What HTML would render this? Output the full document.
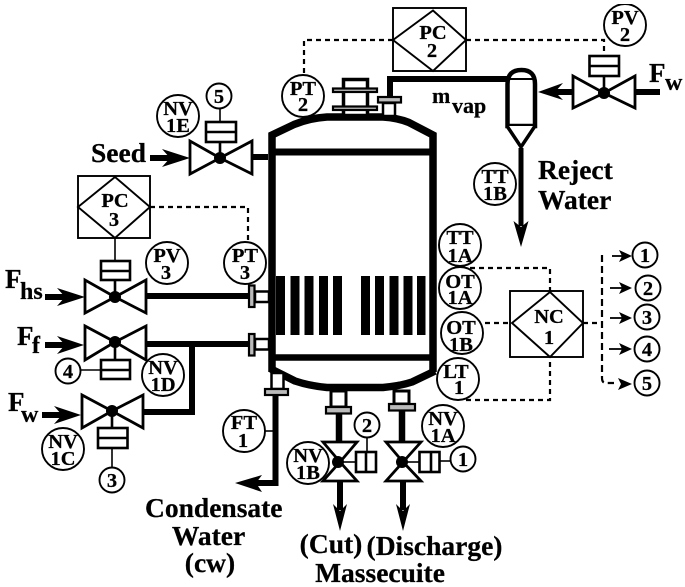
<!DOCTYPE html>
<html><head><meta charset="utf-8"><style>
html,body{margin:0;padding:0;background:#fff;width:685px;height:587px;overflow:hidden}
svg{display:block}
text{font-family:"Liberation Serif",serif;font-weight:bold;fill:#000;stroke:#000;stroke-width:.25;text-anchor:middle}
.l{font-size:27.5px}
.s{font-size:20.5px}
.st{text-anchor:start}
.c{fill:#fff;stroke:#000;stroke-width:1.9}
.t{fill:none;stroke:#000;stroke-width:1.6}
.d{fill:none;stroke:#000;stroke-width:2.2;stroke-dasharray:5 4}
.v{fill:#fff;stroke:#000;stroke-width:2.8}
.a{fill:none;stroke:#000;stroke-width:2.6}
.b{fill:none;stroke:#000;stroke-width:1.9}
.p{fill:none;stroke:#000;stroke-width:6}
.f{fill:#bbb;stroke:#000;stroke-width:2.2}
</style></head><body>
<svg width="685" height="587" viewBox="0 0 685 587" xmlns="http://www.w3.org/2000/svg">
<defs><filter id="bl" x="0" y="0" width="100%" height="100%"><feGaussianBlur stdDeviation="0.35"/></filter></defs>
<rect width="685" height="587" fill="#fff"/>
<g filter="url(#bl)">
<!-- vessel -->
<path d="M272 372 V135 L294 124.500 Q310 118 327 117 H383 Q398 118 409 122.500 L433 135 V372" fill="none" stroke="#000" stroke-width="7.500"/>
<path d="M272 152 H433" stroke="#000" stroke-width="7" fill="none"/>
<path d="M272 357.500 H433" stroke="#000" stroke-width="6.500" fill="none"/>
<path d="M271 369 L295 381 Q310 386 327 387.500 H383 Q400 386 412 382 L435 371" fill="none" stroke="#000" stroke-width="7.500"/>
<!-- bars -->
<g fill="#000">
<rect x="276" y="276" width="9" height="59"/><rect x="290.500" y="276" width="9" height="59"/><rect x="304.500" y="276" width="9" height="59"/><rect x="319" y="276" width="9" height="59"/><rect x="333" y="276" width="9" height="59"/>
<rect x="361" y="276" width="9" height="59"/><rect x="375" y="276" width="9" height="59"/><rect x="389.500" y="276" width="9" height="59"/><rect x="403.500" y="276" width="9" height="59"/><rect x="417" y="276" width="8.500" height="59"/>
</g>
<!-- manhole top -->
<rect x="343.500" y="79.500" width="24" height="36" fill="#fff" stroke="#000" stroke-width="3.500"/>
<rect x="333" y="88.500" width="44" height="3.500" class="f"/>
<rect x="333" y="106.500" width="44" height="3.500" class="f"/>
<!-- vapour nozzle -->
<path d="M390 97 V79 H507" class="p"/>
<rect x="383" y="103" width="12" height="13" fill="#fff" stroke="#000" stroke-width="2.500"/>
<rect x="378" y="97" width="23" height="5.500" class="f"/>
<!-- separator -->
<path d="M507.500 126 V84 Q507.500 70 521.500 70 Q535 70 535 84 V126 Z" fill="#fff" stroke="#000" stroke-width="4.500"/>
<path d="M507 79 H536" fill="none" stroke="#000" stroke-width="2"/>
<path d="M507 126 L521 147 L535 126" fill="#fff" stroke="#000" stroke-width="3.500"/>
<path d="M521 148 V226" fill="none" stroke="#000" stroke-width="5"/>
<polygon points="521,247 513.500,221 521,227 528.500,221"/>
<!-- PV2 valve and arrow -->
<path d="M635 92 H660" class="p"/>
<path d="M573 92 H550" class="p"/>
<polygon points="538,92 563,83 555,92 563,100"/>
<polygon class="v" points="573,76 573,108 604,93"/>
<polygon class="v" points="635,76 635,108 604,93"/>
<path d="M604 76 V93" class="a"/>
<rect x="589.500" y="56" width="29.500" height="20" class="a" fill="#fff"/>
<path d="M589.500 66 H619" class="a"/>
<circle cx="604" cy="93" r="6"/>
<!-- PC2 -->
<path d="M393 40 H304 V74" class="d"/>
<path d="M466 40 H604 V55" class="d"/>
<rect x="393" y="8" width="73" height="63" class="b"/>
<polygon points="393,40 433,10.500 466,40 433,71" class="b"/>
<text x="433" y="39" class="s">PC</text><text x="432" y="57" class="s">2</text>
<circle class="c" cx="303" cy="96" r="21"/><text x="303" y="95" class="s">PT</text><text x="303" y="111" class="s">2</text>
<circle class="c" cx="625" cy="25" r="21"/><text x="625" y="24" class="s">PV</text><text x="625" y="41" class="s">2</text>
<text x="649" y="82" class="st" font-size="27">F</text><text x="665" y="90" class="st" font-size="24">w</text>
<text x="432" y="103" class="st" font-size="22">m</text><text x="452" y="113" class="st" font-size="22">vap</text>
<circle class="c" cx="495" cy="184" r="21"/><text x="495" y="183" class="s">TT</text><text x="495" y="200" class="s">1B</text>
<text x="538" y="179" class="l st">Reject</text><text x="538" y="209" class="l st">Water</text>
<!-- Seed -->
<text x="91" y="162" class="l st">Seed</text>
<rect x="150" y="155" width="22" height="6"/>
<polygon points="190,158 162,149 170,158 162,167"/>
<path d="M252 157 H268" class="p"/>
<polygon class="v" points="190,141 190,174 220,158"/>
<polygon class="v" points="252,141 252,174 220,158"/>
<path d="M220 141 V158" class="a"/>
<rect x="206" y="122" width="30" height="20" class="a" fill="#fff"/>
<path d="M206 132 H236" class="a"/>
<circle cx="220" cy="158" r="6"/>
<path d="M220 108 V122" class="t"/>
<circle class="c" cx="219" cy="96" r="12.500"/><text x="219" y="103" class="s">5</text>
<circle class="c" cx="178" cy="116" r="21"/><text x="178" y="115" class="s">NV</text><text x="178" y="132" class="s">1E</text>
<!-- PC3 -->
<path d="M150 207 H248 V241" class="d"/>
<rect x="78" y="176" width="72" height="62" class="b"/>
<polygon points="78,207 115,177 150,207 115,238" class="b"/>
<text x="115" y="207" class="s">PC</text><text x="114" y="226" class="s">3</text>
<path d="M115 238 V261" class="t"/>
<!-- Fhs line -->
<path d="M146 296 H249" class="p"/>
<polygon class="v" points="85,280 85,313 115,297"/>
<polygon class="v" points="146,280 146,313 115,297"/>
<path d="M115 280 V297" class="a"/>
<rect x="101" y="261" width="29" height="19" class="a" fill="#fff"/>
<path d="M101 271 H130" class="a"/>
<circle cx="115" cy="297" r="6"/>
<rect x="45" y="294" width="22" height="6"/>
<polygon points="85,297 57,288 65,297 57,306"/>
<rect x="255" y="291.500" width="14" height="10.500" fill="#fff" stroke="#000" stroke-width="2.500"/>
<rect x="249" y="285.500" width="5.500" height="21.500" class="f"/>
<circle class="c" cx="245" cy="263" r="21"/><text x="245" y="262" class="s">PT</text><text x="245" y="279" class="s">3</text>
<circle class="c" cx="167" cy="263" r="21"/><text x="167" y="262" class="s">PV</text><text x="166" y="279" class="s">3</text>
<text x="5" y="288" class="st" font-size="27">F</text><text x="20" y="299" class="st" font-size="24">hs</text>
<!-- Ff line -->
<path d="M146 344 H249" class="p"/>
<path d="M192 344 V412 H144" class="p"/>
<polygon class="v" points="85,326 85,360 115,342"/>
<polygon class="v" points="146,326 146,360 115,342"/>
<path d="M115 342 V360" class="a"/>
<rect x="101" y="360" width="29" height="19" class="a" fill="#fff"/>
<path d="M101 370 H130" class="a"/>
<circle cx="115" cy="342" r="6"/>
<rect x="45" y="342" width="22" height="6"/>
<polygon points="84,345 57,336 65,345 57,354"/>
<path d="M80 370 H101" class="t"/>
<circle class="c" cx="68" cy="371" r="12.500"/><text x="68" y="378" class="s">4</text>
<rect x="255" y="339" width="14" height="10.500" fill="#fff" stroke="#000" stroke-width="2.500"/>
<rect x="249" y="334" width="5.500" height="21.500" class="f"/>
<circle class="c" cx="163" cy="375" r="21"/><text x="163" y="374" class="s">NV</text><text x="163" y="391" class="s">1D</text>
<text x="17" y="345" class="st" font-size="27">F</text><text x="32" y="353" class="st" font-size="24">f</text>
<!-- Fw line -->
<polygon class="v" points="82,395 82,428 112,411"/>
<polygon class="v" points="143,395 143,428 112,411"/>
<path d="M112 411 V428" class="a"/>
<rect x="98" y="428" width="29.500" height="20" class="a" fill="#fff"/>
<path d="M98 438 H127.500" class="a"/>
<circle cx="112" cy="411" r="6"/>
<rect x="42" y="412" width="22" height="6"/>
<polygon points="81,415 54,406 62,415 54,424"/>
<path d="M112 448 V468" class="t"/>
<circle class="c" cx="112" cy="480" r="12.500"/><text x="112" y="487" class="s">3</text>
<circle class="c" cx="63" cy="449" r="21"/><text x="63" y="448" class="s">NV</text><text x="63" y="465" class="s">1C</text>
<text x="8" y="411" class="st" font-size="27">F</text><text x="21" y="422" class="st" font-size="24">w</text>
<!-- FT1 and condensate -->
<rect x="271.500" y="373" width="12" height="16" fill="#fff" stroke="#000" stroke-width="2.500"/>
<rect x="265" y="389" width="23" height="6" class="f"/>
<path d="M275.500 396 V483 H255" class="p"/>
<polygon points="235,483 262,475 256,483 262,492"/>
<path d="M265 431 H273" class="t"/>
<circle class="c" cx="244" cy="431" r="21"/><text x="244" y="429" class="s">FT</text><text x="243" y="447" class="s">1</text>
<text x="145" y="517" class="l st">Condensate</text>
<text x="208.500" y="545" class="l">Water</text>
<text x="210" y="572" class="l">(cw)</text>
<!-- bottom valve 1B -->
<rect x="331" y="391" width="15" height="16" fill="#fff" stroke="#000" stroke-width="3"/>
<rect x="326" y="407" width="25" height="6.500" class="f"/>
<path d="M339 413 V442" class="p" style="stroke-width:6.500px"/>
<polygon class="v" points="323,442 357,442 340,462"/>
<polygon class="v" points="323,481 357,481 340,462"/>
<path d="M340 462 H356" class="t"/>
<rect x="356" y="452" width="20" height="20" class="a" fill="#fff"/>
<path d="M366 452 V472" class="a"/>
<circle cx="338" cy="462" r="6"/>
<path d="M367 437 V452" class="t"/>
<circle class="c" cx="367" cy="425" r="12.500"/><text x="367" y="432" class="s">2</text>
<circle class="c" cx="308" cy="463" r="21"/><text x="308" y="462" class="s">NV</text><text x="308" y="479" class="s">1B</text>
<path d="M340 481 V510" class="p"/>
<polygon points="340,531 333,504 340,511 347,504"/>
<!-- bottom valve 1A -->
<rect x="394" y="391" width="15" height="13" fill="#fff" stroke="#000" stroke-width="3"/>
<rect x="389" y="404" width="26" height="6.500" class="f"/>
<path d="M402 411 V442" class="p" style="stroke-width:6.500px"/>
<polygon class="v" points="386,442 421,442 403,462"/>
<polygon class="v" points="386,481 421,481 403,462"/>
<path d="M403 462 H419" class="t"/>
<rect x="419.500" y="452" width="20" height="20" class="a" fill="#fff"/>
<path d="M431 452 V472" class="a"/>
<circle cx="402" cy="462" r="6"/>
<path d="M440 461 H451" class="t"/>
<circle class="c" cx="463" cy="459" r="12.500"/><text x="463" y="466" class="s">1</text>
<circle class="c" cx="443" cy="426" r="21"/><text x="443" y="425" class="s">NV</text><text x="443" y="442" class="s">1A</text>
<path d="M403 481 V510" class="p"/>
<polygon points="403,531 396,504 403,511 410,504"/>
<text x="331" y="553" class="l">(Cut)</text>
<text x="434.500" y="555" class="l">(Discharge)</text>
<text x="380" y="582" class="l">Massecuite</text>
<!-- right side instrumentation -->
<path d="M470 268 H550 V291" class="d"/>
<path d="M485 323 H510" class="d"/>
<path d="M466 400 H550 V357" class="d"/>
<path d="M583 323 H602" class="d"/>
<path d="M602 255 V378 Q602 383 606 383 H614" class="d" style="stroke-dasharray:7 4"/>
<rect x="510" y="291" width="73" height="66" class="b"/>
<polygon points="512,323 550,292 583,323 550,357" class="b"/>
<text x="549" y="323" class="s">NC</text><text x="549" y="344" class="s">1</text>
<circle class="c" cx="460" cy="245" r="21"/><text x="460" y="244" class="s">TT</text><text x="460" y="262" class="s">1A</text>
<circle class="c" cx="460" cy="288" r="21"/><text x="460" y="288" class="s">OT</text><text x="460" y="304" class="s">1A</text>
<circle class="c" cx="462" cy="333" r="21"/><text x="461" y="334" class="s">OT</text><text x="461" y="351" class="s">1B</text>
<circle class="c" cx="458" cy="379" r="21"/><text x="456" y="378" class="s">LT</text><text x="459" y="394" class="s">1</text>
<!-- outputs -->
<g fill="none" stroke="#000" stroke-width="1.800">
<path d="M612 256 H622"/><path d="M610 288 H622"/><path d="M610 318 H622"/><path d="M609 349 H622"/>
</g>
<polygon points="632,256 619,250 622,256 619,262"/>
<polygon points="632,288 619,282 622,288 619,294"/>
<polygon points="632,318 619,312 622,318 619,324"/>
<polygon points="632,349 619,343 622,349 619,355"/>
<polygon points="632,384 618,378 621,384 618,390"/>
<circle class="c" cx="645" cy="255" r="12.500"/><text x="645" y="262" class="s">1</text>
<circle class="c" cx="648" cy="288" r="12.500"/><text x="648" y="295" class="s">2</text>
<circle class="c" cx="647" cy="317" r="12.500"/><text x="647" y="324" class="s">3</text>
<circle class="c" cx="647" cy="349" r="12.500"/><text x="647" y="356" class="s">4</text>
<circle class="c" cx="647" cy="383" r="12.500"/><text x="647" y="390" class="s">5</text>
</g>
</svg>
</body></html>
